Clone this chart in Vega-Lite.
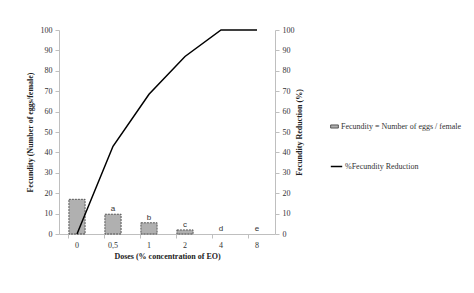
{
  "$schema": "https://vega.github.io/schema/vega-lite/v6.json",
  "width": 216,
  "height": 204,
  "autosize": {"type": "none"},
  "padding": {"left": 59, "top": 30, "right": 199, "bottom": 59},
  "background": "white",
  "config": {
    "view": {"stroke": null},
    "font": "Liberation Serif",
    "axis": {
      "grid": false,
      "domainColor": "#bfbfbf",
      "tickColor": "#bfbfbf",
      "tickSize": 4,
      "labelFontSize": 8,
      "labelColor": "#333333",
      "titleFontSize": 8,
      "titleFontWeight": "bold",
      "titleColor": "#222222",
      "labelFont": "Liberation Serif",
      "titleFont": "Liberation Serif"
    },
    "legend": {"labelFont": "Liberation Serif", "labelFontSize": 8, "labelColor": "#333333"}
  },
  "data": {
    "values": [
      {"dose": "0", "fecundity": 17, "reduction": 0, "letter": ""},
      {"dose": "0,5", "fecundity": 9.7, "reduction": 43, "letter": "a"},
      {"dose": "1", "fecundity": 5.5, "reduction": 68.5, "letter": "b"},
      {"dose": "2", "fecundity": 2, "reduction": 87, "letter": "c"},
      {"dose": "4", "fecundity": 0, "reduction": 100, "letter": "d"},
      {"dose": "8", "fecundity": 0, "reduction": 100, "letter": "e"}
    ]
  },
  "encoding": {
    "x": {
      "field": "dose",
      "type": "ordinal",
      "sort": null,
      "scale": {"paddingInner": 0.55, "paddingOuter": 0.275},
      "axis": {"title": "Doses (% concentration of EO)", "labelAngle": 0, "labelPadding": 3, "titlePadding": 3, "bandPosition": 0}
    }
  },
  "layer": [
    {
      "encoding": {
        "y": {
          "field": "fecundity",
          "type": "quantitative",
          "scale": {"domain": [0, 100]},
          "axis": {"title": "Fecundity (Number of eggs/female)", "tickCount": 10, "titlePadding": 6, "labelPadding": 3}
        }
      },
      "layer": [
        {
          "transform": [{"filter": "datum.fecundity > 0"}],
          "mark": {"type": "bar", "stroke": "#3a3a3a", "strokeWidth": 0.8, "strokeDash": [2, 1]},
          "encoding": {
            "fill": {
              "datum": "Fecundity = Number of eggs / female",
              "scale": {"range": ["#b0b0b0"]},
              "legend": {"orient": "none", "legendX": 271, "legendY": 92, "title": null, "symbolType": "M-1,-0.4H1V0.4H-1Z", "symbolSize": 60, "symbolStrokeColor": "#3a3a3a", "symbolStrokeWidth": 0.8, "labelFont": "Liberation Serif", "labelOffset": 2}
            }
          }
        },
        {
          "mark": {"type": "text", "baseline": "bottom", "dy": -1, "fontSize": 8, "color": "#333333", "font": "Liberation Sans"},
          "encoding": {"text": {"field": "letter"}}
        }
      ]
    },
    {
      "mark": {"type": "line", "strokeWidth": 1.5},
      "encoding": {
        "y": {
          "field": "reduction",
          "type": "quantitative",
          "scale": {"domain": [0, 100]},
          "axis": {"title": "Fecundity Reduction (%)", "orient": "right", "tickCount": 10, "titleAngle": 270, "titlePadding": 9, "labelPadding": 3}
        },
        "stroke": {
          "datum": "%Fecundity Reduction",
          "scale": {"range": ["#000000"]},
          "legend": {"orient": "none", "legendX": 271, "legendY": 130, "title": null, "symbolType": "stroke", "symbolSize": 130, "symbolStrokeWidth": 1.5, "labelFont": "Liberation Serif", "labelOffset": 2}
        }
      }
    }
  ],
  "resolve": {"scale": {"y": "independent"}}
}
